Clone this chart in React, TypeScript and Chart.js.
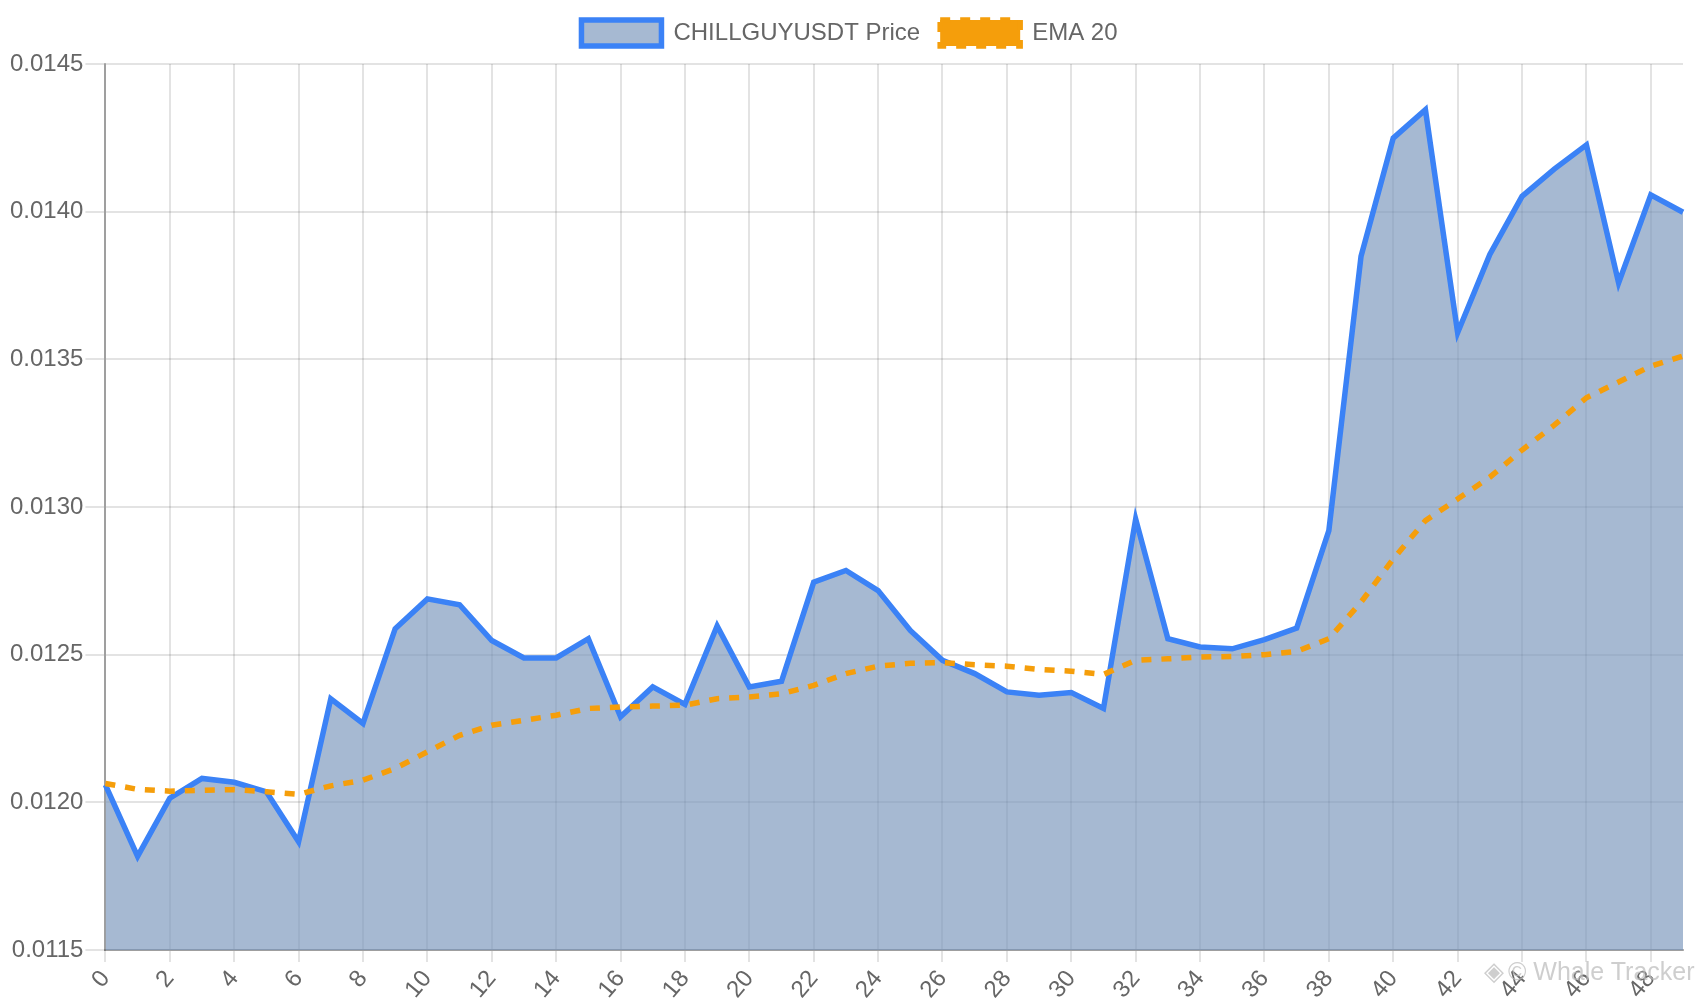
import React, { useEffect, useRef } from "react";
import { Chart, registerables } from "chart.js";

Chart.register(...registerables);

const labels: string[] = Array.from({ length: 50 }, (_, i) => String(i));

const priceValues: number[] = [
  0.012059, 0.011817, 0.012014, 0.012081, 0.012068, 0.012036, 0.011867, 0.012351, 0.012267, 0.012588,
  0.012689, 0.012669, 0.012548, 0.012489, 0.012489, 0.012554, 0.01229, 0.012391, 0.012332, 0.012597,
  0.012391, 0.01241, 0.012746, 0.012785, 0.012717, 0.012582, 0.012481, 0.012436, 0.012374, 0.012363,
  0.012372, 0.012318, 0.012959, 0.012554, 0.012526, 0.01252, 0.012551, 0.01259, 0.01292, 0.013849,
  0.014249, 0.014345, 0.01359, 0.013855, 0.014052, 0.014144, 0.014226, 0.013759, 0.014057, 0.013998,
];

const emaValues: number[] = [
  0.012064, 0.012044, 0.012038, 0.012041, 0.012043, 0.012036, 0.012027, 0.012056, 0.012075, 0.012115,
  0.012171, 0.012227, 0.012261, 0.012278, 0.012295, 0.012318, 0.012323, 0.012326, 0.012329, 0.012351,
  0.012357, 0.012368, 0.012396, 0.012436, 0.012461, 0.012471, 0.012473, 0.012466, 0.012461, 0.01245,
  0.012444, 0.012433, 0.012481, 0.012486, 0.012492, 0.012494, 0.0125, 0.012511, 0.012554, 0.012678,
  0.012824, 0.012954, 0.013027, 0.013101, 0.013193, 0.013277, 0.01337, 0.013423, 0.013477, 0.013511,
];

const yMin = 0.0115;
const yMax = 0.0145;
const yStep = 0.0005;

const FONT = "'Helvetica Neue', Helvetica, Arial, 'Liberation Sans', sans-serif";

const legendMargin = {
  id: "legendMargin",
  beforeInit(chart: any) {
    const legend = chart.legend;
    if (!legend) return;
    const origFit = legend.fit;
    legend.fit = function fit() {
      origFit.call(this);
      this.height += 8;
    };
  },
  afterLayout(chart: any) {
    const legend = chart.legend;
    if (!legend) return;
    legend.left += 4;
    legend.right += 4;
  },
};

export default function App() {
  const ref = useRef<HTMLCanvasElement | null>(null);

  useEffect(() => {
    document.body.style.margin = "0";
    if (!ref.current) return;
    const chart = new Chart(ref.current, {
      type: "line",
      data: {
        labels,
        datasets: [
          {
            label: "CHILLGUYUSDT Price",
            data: priceValues,
            borderColor: "#3b82f6",
            backgroundColor: "rgba(118,148,186,0.65)",
            borderWidth: 5.5,
            fill: "start",
            pointRadius: 0,
            tension: 0,
            order: 2,
          },
          {
            label: "EMA 20",
            data: emaValues,
            borderColor: "#f59e0b",
            backgroundColor: "#f59e0b",
            borderWidth: 5.5,
            borderDash: [10, 10],
            fill: false,
            pointRadius: 0,
            tension: 0,
            order: 1,
          },
        ],
      },
      plugins: [legendMargin],
      options: {
        animation: false,
        responsive: false,
        maintainAspectRatio: false,
        layout: { padding: { right: 17, left: 8, top: 0, bottom: -7 } },
        plugins: {
          legend: {
            position: "top",
            labels: {
              boxWidth: 80,
              boxHeight: 26,
              color: "#666",
              font: { size: 24, family: FONT },
              padding: 20,
              sort: (a: any, b: any) => a.datasetIndex - b.datasetIndex,
            },
          },
          tooltip: { enabled: false },
        },
        scales: {
          x: {
            grid: { color: "rgba(0,0,0,0.11)", tickLength: 12, lineWidth: 2 },
            border: { color: "rgba(0,0,0,0.3)", width: 2 },
            ticks: {
              autoSkip: false,
              maxRotation: 50,
              minRotation: 50,
              color: "#666",
              font: { size: 24, family: FONT },
              callback: (_v: any, i: number) => (i % 2 === 0 ? labels[i] : null),
            },
          },
          y: {
            min: yMin,
            max: yMax,
            grid: { color: "rgba(0,0,0,0.11)", tickLength: 20, lineWidth: 2 },
            border: { color: "rgba(0,0,0,0.3)", width: 2 },
            ticks: {
              stepSize: yStep,
              color: "#666",
              font: { size: 24, family: FONT },
              padding: 2,
              callback: (v: any) => Number(v).toFixed(4),
            },
          },
        },
      },
    });
    return () => chart.destroy();
  }, []);

  return (
    <div style={{ position: "relative", width: 1700, height: 1000, background: "#fff" }}>
      <canvas ref={ref} width={1700} height={1000} style={{ display: "block", width: 1700, height: 1000 }} />
      <div
        style={{
          position: "absolute",
          left: 1484,
          top: 956,
          fontFamily: FONT,
          fontSize: 25,
          color: "rgba(190,190,190,0.75)",
          whiteSpace: "nowrap",
          pointerEvents: "none",
        }}
      >
        <span style={{ fontSize: 26, marginRight: 4 }}>◈</span>© Whale Tracker
      </div>
    </div>
  );
}
